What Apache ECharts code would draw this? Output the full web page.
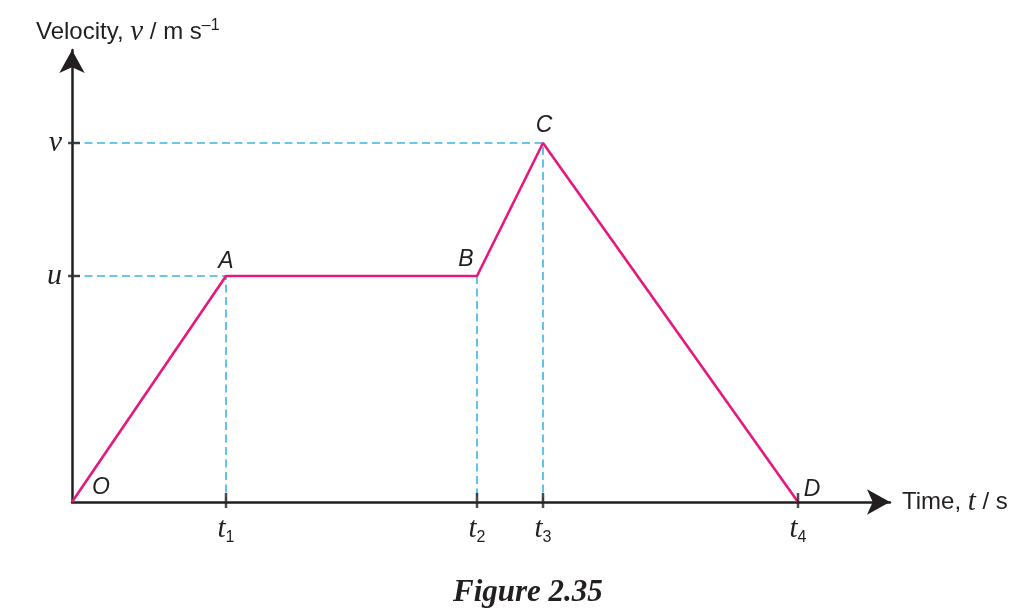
<!DOCTYPE html>
<html>
<head>
<meta charset="utf-8">
<script src="https://cdn.jsdelivr.net/npm/echarts@6/dist/echarts.min.js"></script>
<style>
  html, body { margin: 0; padding: 0; background: #ffffff; }
  #chart { width: 1024px; height: 615px; }
</style>
</head>
<body>
<div id="chart"></div>
<script>
// ---- data (arbitrary units) ----
const pointNames = ['O', 'A', 'B', 'C', 'D'];
const times = [0, 15.4, 40.5, 47.1, 72.6];
const velocities = [0, 22.6, 22.6, 35.9, 0];
const xTickNames = ['1', '2', '3', '4'];        // subscripts of t
const xTickValues = [15.4, 40.5, 47.1, 72.6];
const yTickNames = ['u', 'v'];
const yTickValues = [22.6, 35.9];
const xMax = 81.8;
const yMax = 45.2;

// ---- styles ----
const INK = '#231f20';
const PINK = '#e6187e';
const BLUE = '#3db4e5';
const SANS = "'Liberation Sans', Arial, sans-serif";
const SERIF = "'Liberation Serif', 'Times New Roman', serif";
const labelOffsets = {
  O: [29, -14], A: [0, -14], B: [-11, -16], C: [1, -17], D: [14, -12]
};

const chart = echarts.init(document.getElementById('chart'), null, { renderer: 'canvas' });

const mainData = times.map((t, i) => ({
  value: [t, velocities[i]],
  name: pointNames[i],
  label: { offset: labelOffsets[pointNames[i]] }
}));

// dashed guide lines: from the y-axis to A and C, and down from A, B, C
const iA = 1, iB = 2, iC = 3;
const guideA = [[0, velocities[iA]], [times[iA], velocities[iA]], [times[iA], 0]];
const guideB = [[times[iB], velocities[iB]], [times[iB], 0]];
const guideC = [[0, velocities[iC]], [times[iC], velocities[iC]], [times[iC], 0]];

const dashed = {
  type: 'line', symbol: 'none', silent: true, clip: false, z: 2,
  lineStyle: { color: BLUE, width: 1.6, type: [8, 4.5] }
};

const option = {
  animation: false,
  backgroundColor: '#ffffff',
  title: [
    {
      text: 'Velocity, {i|v} / m s{sup|–1}',
      left: 31, top: 13,
      textStyle: {
        fontFamily: SANS, fontSize: 24, fontWeight: 'normal', color: INK,
        rich: {
          i: { fontFamily: SERIF, fontStyle: 'italic', fontSize: 29, color: INK },
          sup: { fontFamily: SANS, fontSize: 16, color: INK, lineHeight: 16, padding: [0, 0, 14, 0] }
        }
      }
    },
    {
      text: 'Figure 2.35',
      left: 448, top: 572,
      textStyle: {
        fontFamily: SERIF, fontStyle: 'italic', fontWeight: 'bold', fontSize: 31, color: INK
      }
    }
  ],
  grid: { left: 72, right: 134, top: 50, bottom: 113, containLabel: false },
  xAxis: {
    type: 'value', min: 0, max: xMax,
    splitLine: { show: false },
    axisTick: { show: false },
    axisLine: {
      show: true, onZero: false,
      lineStyle: { color: INK, width: 2.5 },
      symbol: ['none', 'arrow'], symbolSize: [19, 23]
    },
    axisLabel: {
      customValues: xTickValues,
      margin: 11,
      formatter: v => {
        const k = xTickValues.findIndex(x => Math.abs(x - v) < 1e-6);
        return k < 0 ? '' : '{t|t}{s|' + xTickNames[k] + '}';
      },
      rich: {
        t: { fontFamily: SERIF, fontStyle: 'italic', fontSize: 29, color: INK, lineHeight: 32 },
        s: { fontFamily: SANS, fontSize: 16, color: INK, lineHeight: 14, padding: [18, 0, 0, 0] }
      }
    },
    name: 'Time, {i|t} / s',
    nameLocation: 'end',
    nameGap: 12,
    nameTextStyle: {
      fontFamily: SANS, fontSize: 24, color: INK, verticalAlign: 'middle', align: 'left',
      rich: {
        i: { fontFamily: SERIF, fontStyle: 'italic', fontSize: 29, color: INK }
      }
    }
  },
  yAxis: {
    type: 'value', min: 0, max: yMax,
    splitLine: { show: false },
    axisTick: { show: false },
    axisLine: {
      show: true, onZero: false,
      lineStyle: { color: INK, width: 2.5 },
      symbol: ['none', 'arrow'], symbolSize: [19, 23]
    },
    axisLabel: {
      customValues: yTickValues,
      margin: 10,
      formatter: v => {
        const k = yTickValues.findIndex(y => Math.abs(y - v) < 1e-6);
        return k < 0 ? '' : yTickNames[k];
      },
      fontFamily: SERIF, fontStyle: 'italic', fontSize: 30, color: INK
    }
  },
  series: [
    Object.assign({ data: guideA }, dashed),
    Object.assign({ data: guideB }, dashed),
    Object.assign({ data: guideC }, dashed),
    {
      type: 'line', data: mainData, clip: false, z: 3,
      symbol: 'circle', symbolSize: 1, showSymbol: true,
      itemStyle: { color: PINK },
      lineStyle: { color: PINK, width: 2.6 },
      emphasis: { disabled: true },
      label: {
        show: true, position: 'top', distance: 0,
        align: 'center', verticalAlign: 'middle',
        formatter: p => p.name,
        fontFamily: SANS, fontStyle: 'italic', fontSize: 23, color: INK
      }
    },
    { // x-axis tick marks crossing the axis
      type: 'scatter', clip: false, silent: true, z: 4,
      data: xTickValues.map(t => [t, 0]),
      symbol: 'rect', symbolSize: [2.5, 15], symbolOffset: [0, -1.5],
      itemStyle: { color: INK }
    },
    { // y-axis tick marks crossing the axis
      type: 'scatter', clip: false, silent: true, z: 4,
      data: yTickValues.map(v => [0, v]),
      symbol: 'rect', symbolSize: [12, 2.5], symbolOffset: [2, 0],
      itemStyle: { color: INK }
    }
  ]
};

chart.setOption(option);
</script>
</body>
</html>
